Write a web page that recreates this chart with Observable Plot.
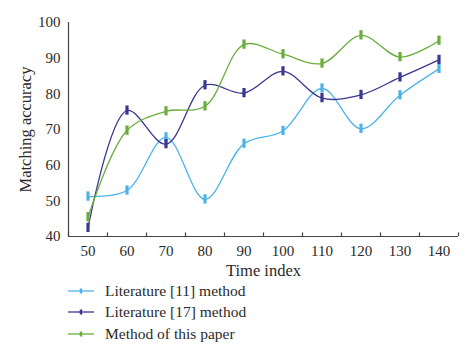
<!DOCTYPE html>
<html>
<head>
<meta charset="utf-8">
<script src="https://cdn.jsdelivr.net/npm/d3@7"></script>
<script src="https://cdn.jsdelivr.net/npm/@observablehq/plot@0.6"></script>
<style>
  body { margin: 0; background: #fff; font-family: 'Liberation Serif', 'DejaVu Serif', serif; }
  #chart svg, #chart svg text { font-family: 'Liberation Serif', 'DejaVu Serif', serif !important; }
  #legend { margin-left: 68px; margin-top: 0px; }
  .item { display: flex; align-items: center; height: 21.5px; font-size: 15.5px; color: #2a2a2a; }
  .item svg { margin-right: 11px; }
</style>
</head>
<body>
<div id="chart"></div>
<div id="legend"></div>
<script>
const timeIndex = [50, 60, 70, 80, 90, 100, 110, 120, 130, 140];
const lit11 = [51.2, 52.9, 67.8, 50.4, 66.0, 69.6, 81.5, 70.2, 79.6, 87.0];
const lit17 = [42.4, 75.3, 65.9, 82.4, 80.2, 86.3, 78.8, 79.7, 84.6, 89.5];
const ours  = [45.4, 69.7, 75.1, 76.5, 93.8, 91.1, 88.5, 96.4, 90.3, 94.9];
const seriesNames = ["Literature [11] method", "Literature [17] method", "Method of this paper"];
const seriesColors = ["#4db3e6", "#3a3790", "#6aad3c"];
const yTicks = [40, 50, 60, 70, 80, 90, 100];
const xTickMarks = [45, 55, 65, 75, 85, 95, 105, 115, 125, 135, 145];
const errHalf = 1.3;

const seriesValues = [lit11, lit17, ours];
const data = [];
seriesValues.forEach((vals, s) => vals.forEach((v, i) => data.push({series: seriesNames[s], x: timeIndex[i], y: v})));

const chart = Plot.plot({
  width: 474,
  height: 280,
  marginLeft: 68,
  marginRight: 16,
  marginTop: 22,
  marginBottom: 44,
  style: {fontFamily: "'Liberation Serif', 'DejaVu Serif', serif", fontSize: "14.5px", color: "#2a2a2a"},
  x: {domain: [45, 145], label: null},
  y: {domain: [40, 100], label: null},
  color: {domain: seriesNames, range: seriesColors},
  marks: [
    Plot.ruleY([40], {x1: 45, x2: 145, stroke: "#444", strokeWidth: 1.2}),
    Plot.ruleX([45], {y1: 40, y2: 100, stroke: "#444", strokeWidth: 1.2}),
    Plot.ruleX(xTickMarks, {x: d => d, y1: 40, y2: 41, stroke: "#444", strokeWidth: 1.2}),
    Plot.axisY({ticks: yTicks, tickSize: 0, tickPadding: 8, fontSize: 15}),
    Plot.axisX({ticks: timeIndex, tickSize: 0, tickPadding: 9, fontSize: 15, tickFormat: d => String(d)}),
    Plot.text(["Time index"], {frameAnchor: "bottom", dy: 39, fontSize: 16.5, fill: "#2a2a2a"}),
    Plot.text(["Matching accuracy"], {frameAnchor: "left", textAnchor: "middle", dx: -43, rotate: -90, fontSize: 16.5, fill: "#2a2a2a"}),
    Plot.line(data, {x: "x", y: "y", z: "series", stroke: "series", curve: "catmull-rom", strokeWidth: 1.3}),
    Plot.ruleX(data, {x: "x", y1: d => d.y - errHalf, y2: d => d.y + errHalf, stroke: "series", strokeWidth: 3.2})
  ]
});
document.getElementById("chart").appendChild(chart);

const legend = d3.select("#legend");
seriesNames.forEach((name, i) => {
  const item = legend.append("div").attr("class", "item");
  const svg = item.append("svg").attr("width", 26).attr("height", 10);
  svg.append("line").attr("x1", 0).attr("x2", 26).attr("y1", 5).attr("y2", 5).attr("stroke", seriesColors[i]).attr("stroke-width", 1.3);
  svg.append("line").attr("x1", 13).attr("x2", 13).attr("y1", 2.5).attr("y2", 7.5).attr("stroke", seriesColors[i]).attr("stroke-width", 2.5);
  item.append("span").text(name);
});
</script>
</body>
</html>
